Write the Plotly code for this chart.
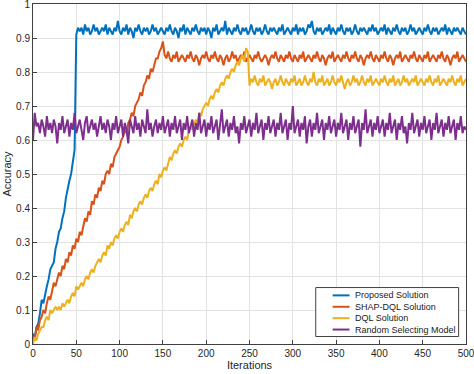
import plotly.graph_objects as go

iterations = list(range(0, 501, 2))

proposed = [
    0.03,0.02,0.05,0.06,0.09,0.13,0.12,0.15,0.17,0.19,0.22,0.23,0.24,0.28,0.30,0.33,0.34,0.37,0.39,0.43,0.46,0.48,0.50,0.53,0.57,
    0.91,0.93,0.92,0.93,0.91,0.94,0.92,0.93,0.91,0.92,0.94,0.92,0.93,0.91,0.92,0.93,0.92,0.94,0.91,0.93,0.92,0.91,0.93,0.92,0.95,
    0.92,0.91,0.93,0.92,0.94,0.91,0.93,0.92,0.90,0.93,0.92,0.94,0.92,0.91,0.93,0.92,0.93,0.91,0.92,0.94,0.92,0.93,0.91,0.92,0.93,
    0.92,0.91,0.93,0.92,0.94,0.92,0.91,0.93,0.92,0.90,0.93,0.92,0.94,0.91,0.93,0.92,0.91,0.93,0.92,0.94,0.92,0.91,0.93,0.92,0.93,
    0.91,0.93,0.92,0.90,0.93,0.92,0.94,0.91,0.92,0.93,0.92,0.95,0.91,0.93,0.92,0.91,0.93,0.92,0.94,0.92,0.91,0.93,0.92,0.93,0.91,
    0.92,0.94,0.92,0.91,0.93,0.92,0.93,0.91,0.92,0.94,0.92,0.91,0.93,0.92,0.93,0.92,0.91,0.93,0.92,0.94,0.91,0.92,0.93,0.92,0.91,
    0.93,0.92,0.94,0.91,0.93,0.92,0.93,0.91,0.92,0.94,0.93,0.95,0.92,0.91,0.93,0.92,0.93,0.91,0.92,0.93,0.92,0.94,0.91,0.93,0.92,
    0.91,0.93,0.92,0.94,0.92,0.91,0.93,0.92,0.93,0.91,0.92,0.94,0.92,0.91,0.93,0.92,0.93,0.92,0.91,0.93,0.92,0.94,0.92,0.93,0.91,
    0.92,0.93,0.92,0.94,0.91,0.93,0.92,0.91,0.93,0.92,0.94,0.92,0.91,0.93,0.92,0.93,0.91,0.92,0.94,0.92,0.93,0.91,0.92,0.93,0.92,
    0.91,0.93,0.92,0.94,0.92,0.91,0.93,0.92,0.93,0.91,0.92,0.93,0.92,0.94,0.91,0.93,0.92,0.91,0.93,0.92,0.93,0.92,0.91,0.93,0.92,
    0.91,
]

shap_dql = [
    0.02,0.01,0.05,0.04,0.07,0.08,0.10,0.09,0.12,0.14,0.13,0.16,0.18,0.17,0.19,0.21,0.20,0.23,0.22,0.25,0.24,0.27,0.26,0.29,0.28,
    0.31,0.30,0.33,0.32,0.35,0.37,0.36,0.39,0.38,0.42,0.41,0.44,0.43,0.46,0.45,0.48,0.47,0.50,0.51,0.50,0.53,0.52,0.55,0.56,0.57,
    0.58,0.60,0.61,0.63,0.62,0.65,0.66,0.68,0.67,0.70,0.71,0.72,0.74,0.73,0.76,0.77,0.79,0.78,0.81,0.80,0.82,0.84,0.84,0.86,0.87,
    0.89,
    0.85,0.84,0.86,0.84,0.83,0.85,0.84,0.86,0.83,0.84,0.85,0.84,0.83,0.85,0.84,0.86,0.84,0.83,0.85,0.84,0.82,0.84,0.85,0.84,0.86,
    0.84,0.83,0.85,0.84,0.86,0.84,0.83,0.85,0.84,0.82,0.84,0.85,0.83,0.84,0.86,0.84,0.85,0.83,0.84,0.85,0.84,0.86,0.83,0.84,0.85,
    0.84,0.83,0.85,0.84,0.86,0.84,0.83,0.84,0.85,0.84,0.82,0.84,0.85,0.84,0.86,0.84,0.83,0.85,0.84,0.83,0.85,0.84,0.86,0.84,0.83,
    0.85,0.84,0.83,0.85,0.84,0.86,0.83,0.84,0.85,0.84,0.83,0.85,0.84,0.86,0.84,0.83,0.85,0.84,0.82,0.84,0.85,0.84,0.86,0.83,0.84,
    0.85,0.84,0.83,0.85,0.84,0.86,0.84,0.83,0.85,0.84,0.86,0.84,0.83,0.85,0.84,0.82,0.84,0.85,0.84,0.86,0.84,0.83,0.85,0.84,0.83,
    0.85,0.84,0.86,0.84,0.83,0.85,0.84,0.82,0.84,0.85,0.84,0.86,0.83,0.84,0.85,0.84,0.83,0.85,0.84,0.86,0.84,0.83,0.85,0.84,0.83,
    0.85,0.84,0.86,0.83,0.84,0.85,0.84,0.83,0.85,0.84,0.86,0.84,0.83,0.85,0.84,0.82,0.84,0.85,0.84,0.86,0.83,0.84,0.85,0.84,0.83,
]

dql = [
    0.00,0.02,0.01,0.03,0.04,0.05,0.05,0.07,0.08,0.07,0.10,0.09,0.10,0.11,0.10,0.11,0.10,0.12,0.11,0.12,0.13,0.12,0.14,0.15,0.14,
    0.17,0.16,0.17,0.18,0.17,0.19,0.20,0.19,0.21,0.22,0.21,0.23,0.24,0.25,0.24,0.26,0.27,0.26,0.29,0.28,0.30,0.29,0.31,0.32,0.31,
    0.33,0.34,0.33,0.35,0.36,0.35,0.38,0.37,0.39,0.40,0.39,0.41,0.42,0.41,0.43,0.44,0.43,0.45,0.46,0.45,0.47,0.48,0.47,0.50,0.49,
    0.51,0.52,0.51,0.53,0.55,0.54,0.56,0.57,0.56,0.58,0.59,0.58,0.60,0.61,0.60,0.63,0.64,0.63,0.65,0.66,0.65,0.68,0.67,0.69,0.70,
    0.71,0.70,0.72,0.73,0.72,0.74,0.75,0.74,0.76,0.77,0.76,0.78,0.79,0.78,0.80,0.81,0.80,0.82,0.83,0.82,0.84,0.85,0.83,0.87,0.86,
    0.76,0.78,0.77,0.79,0.77,0.76,0.78,0.77,0.79,0.76,0.77,0.78,0.77,0.75,0.77,0.78,0.76,0.77,0.79,0.77,0.76,0.78,0.77,0.76,0.78,
    0.77,0.79,0.76,0.77,0.78,0.76,0.77,0.79,0.77,0.76,0.78,0.77,0.80,0.77,0.76,0.78,0.77,0.79,0.76,0.77,0.78,0.76,0.77,0.79,0.77,
    0.76,0.78,0.77,0.79,0.77,0.75,0.77,0.78,0.76,0.77,0.79,0.77,0.78,0.76,0.77,0.79,0.77,0.76,0.78,0.77,0.79,0.76,0.77,0.78,0.77,
    0.76,0.78,0.77,0.79,0.77,0.76,0.78,0.77,0.79,0.76,0.77,0.78,0.76,0.77,0.79,0.77,0.78,0.76,0.77,0.78,0.77,0.79,0.76,0.77,0.78,
    0.77,0.76,0.78,0.77,0.79,0.77,0.76,0.78,0.77,0.79,0.76,0.77,0.78,0.77,0.76,0.78,0.77,0.79,0.77,0.76,0.78,0.77,0.79,0.76,0.77,
    0.78,
]

random_model = [
    0.60,0.68,0.64,0.65,0.62,0.66,0.64,0.61,0.67,0.63,0.65,0.62,0.66,0.64,0.59,0.65,0.63,0.67,0.62,0.64,0.66,0.61,0.65,0.63,0.68,
    0.62,0.64,0.66,0.63,0.60,0.65,0.67,0.62,0.64,0.66,0.63,0.65,0.61,0.64,0.67,0.63,0.65,0.62,0.66,0.64,0.60,0.65,0.63,0.67,0.62,
    0.64,0.66,0.61,0.65,0.63,0.59,0.66,0.64,0.62,0.67,0.63,0.65,0.61,0.66,0.64,0.62,0.69,0.63,0.65,0.61,0.64,0.66,0.62,0.65,0.63,
    0.67,0.62,0.64,0.66,0.61,0.65,0.63,0.67,0.62,0.64,0.66,0.60,0.65,0.63,0.67,0.62,0.64,0.66,0.61,0.65,0.63,0.68,0.62,0.64,0.66,
    0.61,0.65,0.63,0.67,0.62,0.64,0.66,0.60,0.65,0.69,0.62,0.64,0.66,0.61,0.65,0.63,0.67,0.62,0.64,0.59,0.65,0.63,0.67,0.62,0.64,
    0.66,0.61,0.65,0.63,0.68,0.62,0.64,0.66,0.60,0.65,0.63,0.67,0.62,0.64,0.66,0.61,0.65,0.63,0.68,0.62,0.64,0.66,0.60,0.65,0.63,
    0.70,0.62,0.64,0.66,0.61,0.65,0.63,0.67,0.59,0.64,0.66,0.61,0.65,0.63,0.68,0.62,0.64,0.66,0.60,0.65,0.63,0.67,0.62,0.64,0.66,
    0.61,0.65,0.63,0.68,0.62,0.64,0.66,0.60,0.65,0.63,0.67,0.62,0.64,0.66,0.58,0.65,0.63,0.69,0.62,0.64,0.66,0.61,0.65,0.63,0.67,
    0.62,0.64,0.66,0.61,0.65,0.63,0.68,0.62,0.64,0.66,0.60,0.65,0.63,0.67,0.62,0.64,0.59,0.65,0.63,0.68,0.62,0.64,0.66,0.61,0.65,
    0.63,0.67,0.62,0.64,0.66,0.60,0.65,0.63,0.68,0.62,0.64,0.66,0.61,0.65,0.63,0.67,0.62,0.64,0.66,0.60,0.65,0.63,0.67,0.62,0.64,
    0.63,
]

series_names = ["Proposed Solution", "SHAP-DQL Solution", "DQL Solution", "Random Selecting Model"]
series_values = [proposed, shap_dql, dql, random_model]
series_colors = ["#0072BD", "#D95319", "#EDB120", "#7E2F8E"]

x_ticks = [0, 50, 100, 150, 200, 250, 300, 350, 400, 450, 500]
y_ticks = [0, 0.1, 0.2, 0.3, 0.4, 0.5, 0.6, 0.7, 0.8, 0.9, 1]
y_tick_labels = ["0", "0.1", "0.2", "0.3", "0.4", "0.5", "0.6", "0.7", "0.8", "0.9", "1"]

AXIS_COLOR = "#404040"
TEXT_COLOR = "#262626"

fig = go.Figure()
for name, vals, col in zip(series_names, series_values, series_colors):
    fig.add_trace(go.Scatter(x=iterations, y=vals, mode="lines", name=name,
                             line=dict(color=col, width=2), showlegend=False))

# Compact MATLAB-style legend box (paper coordinates = plot-area fractions)
LEG_X0, LEG_X1, LEG_Y0, LEG_Y1 = 0.653, 0.983, 0.022, 0.166
LEG_ROW_TOP, LEG_ROW_STEP = 0.143, 0.0335
LEG_LINE_X0, LEG_LINE_X1, LEG_TEXT_X = 0.692, 0.731, 0.739

shapes = [dict(type="rect", xref="paper", yref="paper",
               x0=LEG_X0, x1=LEG_X1, y0=LEG_Y0, y1=LEG_Y1,
               fillcolor="white", line=dict(color=AXIS_COLOR, width=1), layer="above")]
annotations = []
for i, (name, col) in enumerate(zip(series_names, series_colors)):
    yy = LEG_ROW_TOP - i * LEG_ROW_STEP
    shapes.append(dict(type="line", xref="paper", yref="paper",
                       x0=LEG_LINE_X0, x1=LEG_LINE_X1, y0=yy, y1=yy,
                       line=dict(color=col, width=2), layer="above"))
    annotations.append(dict(xref="paper", yref="paper", x=LEG_TEXT_X, y=yy,
                            text=name, showarrow=False, xanchor="left", yanchor="middle",
                            font=dict(size=9, color="#1a1a1a")))

axis_common = dict(showgrid=True, gridcolor="#e3e3e3", gridwidth=1,
                   showline=True, linecolor=AXIS_COLOR, linewidth=1, mirror=True,
                   ticks="inside", ticklen=4, tickcolor=AXIS_COLOR,
                   zeroline=False, automargin=False, ticklabeloverflow="allow",
                   tickfont=dict(size=10, color=TEXT_COLOR))

fig.update_layout(
    width=474, height=374,
    margin=dict(l=33, r=8, t=4, b=30),
    paper_bgcolor="white", plot_bgcolor="white",
    font=dict(family="Liberation Sans, Arial, sans-serif", color=TEXT_COLOR),
    xaxis=dict(range=[0, 500], tickvals=x_ticks,
               title=dict(text="Iterations", font=dict(size=11), standoff=2), **axis_common),
    yaxis=dict(range=[0, 1], tickvals=y_ticks, ticktext=y_tick_labels,
               title=dict(text="Accuracy", font=dict(size=11), standoff=2), **axis_common),
    shapes=shapes,
    annotations=annotations,
    showlegend=False,
)

fig.write_html("out.html", config={"displayModeBar": False},
               post_script="document.body.style.margin='0';")
